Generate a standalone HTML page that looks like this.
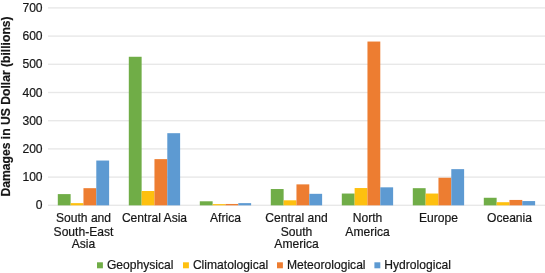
<!DOCTYPE html>
<html lang="en">
<head>
<meta charset="utf-8">
<title>Damages in US Dollar (billions)</title>
<style>
html,body{margin:0;padding:0;background:#fff;}
body{width:545px;height:273px;overflow:hidden;}
svg{display:block;}
svg text{font-family:"Liberation Sans",Arial,Helvetica,sans-serif;font-size:12.1px;fill:#161616;stroke:#161616;stroke-width:0.2px;}
</style>
</head>
<body>
<svg width="545" height="273" viewBox="0 0 545 273">
<rect x="0" y="0" width="545" height="273" fill="#ffffff"/>
<rect x="48.0" y="204.60" width="497.0" height="1.4" fill="#E8E8E8"/>
<text x="42.6" y="209.40" text-anchor="end">0</text>
<rect x="48.0" y="176.40" width="497.0" height="1.4" fill="#E8E8E8"/>
<text x="42.6" y="181.20" text-anchor="end">100</text>
<rect x="48.0" y="148.20" width="497.0" height="1.4" fill="#E8E8E8"/>
<text x="42.6" y="153.00" text-anchor="end">200</text>
<rect x="48.0" y="120.00" width="497.0" height="1.4" fill="#E8E8E8"/>
<text x="42.6" y="124.80" text-anchor="end">300</text>
<rect x="48.0" y="91.80" width="497.0" height="1.4" fill="#E8E8E8"/>
<text x="42.6" y="96.60" text-anchor="end">400</text>
<rect x="48.0" y="63.60" width="497.0" height="1.4" fill="#E8E8E8"/>
<text x="42.6" y="68.40" text-anchor="end">500</text>
<rect x="48.0" y="35.40" width="497.0" height="1.4" fill="#E8E8E8"/>
<text x="42.6" y="40.20" text-anchor="end">600</text>
<rect x="48.0" y="7.20" width="497.0" height="1.4" fill="#E8E8E8"/>
<text x="42.6" y="12.00" text-anchor="end">700</text>
<rect x="57.80" y="194.10" width="12.83" height="11.25" fill="#70AD47"/>
<rect x="70.63" y="203.13" width="12.83" height="2.22" fill="#FEC00F"/>
<rect x="83.46" y="188.18" width="12.83" height="17.17" fill="#ED7D31"/>
<rect x="96.29" y="160.54" width="12.83" height="44.81" fill="#5D9AD2"/>
<rect x="128.80" y="56.77" width="12.83" height="148.58" fill="#70AD47"/>
<rect x="141.63" y="191.00" width="12.83" height="14.35" fill="#FEC00F"/>
<rect x="154.46" y="159.13" width="12.83" height="46.22" fill="#ED7D31"/>
<rect x="167.29" y="133.19" width="12.83" height="72.16" fill="#5D9AD2"/>
<rect x="199.80" y="201.29" width="12.83" height="4.06" fill="#70AD47"/>
<rect x="212.63" y="204.11" width="12.83" height="1.24" fill="#FEC00F"/>
<rect x="225.46" y="203.97" width="12.83" height="1.38" fill="#ED7D31"/>
<rect x="238.29" y="203.13" width="12.83" height="2.22" fill="#5D9AD2"/>
<rect x="270.80" y="189.03" width="12.83" height="16.32" fill="#70AD47"/>
<rect x="283.63" y="200.31" width="12.83" height="5.04" fill="#FEC00F"/>
<rect x="296.46" y="184.37" width="12.83" height="20.98" fill="#ED7D31"/>
<rect x="309.29" y="193.82" width="12.83" height="11.53" fill="#5D9AD2"/>
<rect x="341.80" y="193.54" width="12.83" height="11.81" fill="#70AD47"/>
<rect x="354.63" y="188.04" width="12.83" height="17.31" fill="#FEC00F"/>
<rect x="367.46" y="41.54" width="12.83" height="163.81" fill="#ED7D31"/>
<rect x="380.29" y="187.33" width="12.83" height="18.02" fill="#5D9AD2"/>
<rect x="412.80" y="188.18" width="12.83" height="17.17" fill="#70AD47"/>
<rect x="425.63" y="193.54" width="12.83" height="11.81" fill="#FEC00F"/>
<rect x="438.46" y="177.75" width="12.83" height="27.60" fill="#ED7D31"/>
<rect x="451.29" y="169.14" width="12.83" height="36.20" fill="#5D9AD2"/>
<rect x="483.80" y="197.77" width="12.83" height="7.58" fill="#70AD47"/>
<rect x="496.63" y="202.20" width="12.83" height="3.15" fill="#FEC00F"/>
<rect x="509.46" y="199.94" width="12.83" height="5.41" fill="#ED7D31"/>
<rect x="522.29" y="201.07" width="12.83" height="4.28" fill="#5D9AD2"/>
<text x="83.5" y="222.4" text-anchor="middle">South and</text>
<text x="83.5" y="235.6" text-anchor="middle">South-East</text>
<text x="83.5" y="248.3" text-anchor="middle">Asia</text>
<text x="154.5" y="222.4" text-anchor="middle">Central Asia</text>
<text x="225.5" y="222.4" text-anchor="middle">Africa</text>
<text x="296.5" y="222.4" text-anchor="middle">Central and</text>
<text x="296.5" y="235.6" text-anchor="middle">South</text>
<text x="296.5" y="248.3" text-anchor="middle">America</text>
<text x="367.5" y="222.4" text-anchor="middle">North</text>
<text x="367.5" y="235.6" text-anchor="middle">America</text>
<text x="438.5" y="222.4" text-anchor="middle">Europe</text>
<text x="509.5" y="222.4" text-anchor="middle">Oceania</text>
<text transform="translate(10.25,106.45) rotate(-90)" text-anchor="middle" style="font-weight:bold;font-size:12.15px">Damages in US Dollar (billions)</text>
<rect x="97.0" y="262.3" width="5.9" height="6" fill="#70AD47"/>
<text x="106.9" y="268.7">Geophysical</text>
<rect x="183.0" y="262.3" width="5.9" height="6" fill="#FEC00F"/>
<text x="192.9" y="268.7">Climatological</text>
<rect x="277.0" y="262.3" width="5.9" height="6" fill="#ED7D31"/>
<text x="286.9" y="268.7">Meteorological</text>
<rect x="374.4" y="262.3" width="5.9" height="6" fill="#5D9AD2"/>
<text x="384.3" y="268.7">Hydrological</text>
</svg>
</body>
</html>
